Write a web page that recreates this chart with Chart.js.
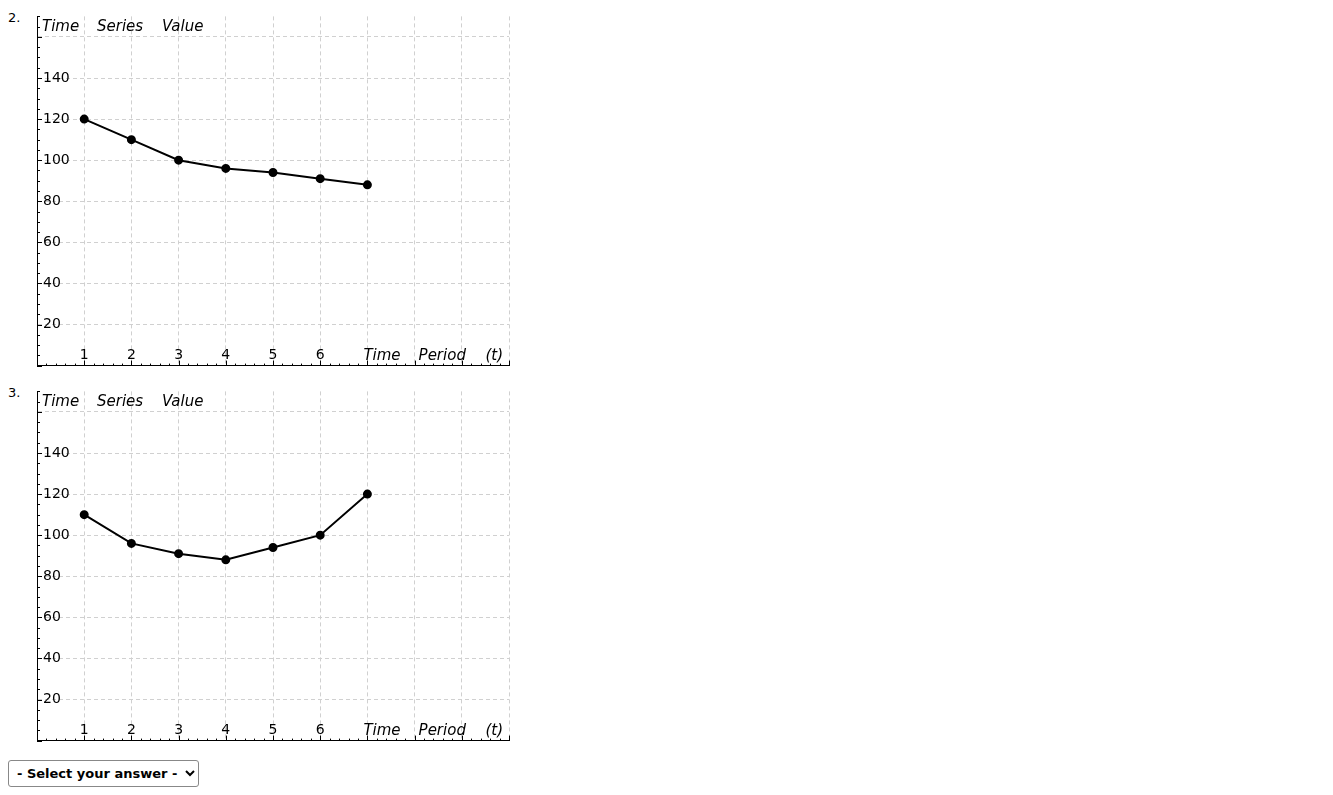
<!DOCTYPE html>
<html><head><meta charset="utf-8">
<script src="https://cdn.jsdelivr.net/npm/chart.js@4"></script>
<style>
body{margin:0;background:#fff;font-family:"DejaVu Sans",sans-serif;width:1333px;height:795px;position:relative;overflow:hidden}
.num{position:absolute;left:8px;font-size:13px;color:#000}
.box{position:absolute;left:20px;width:495px;height:378px}
select{position:absolute;left:8px;top:760px;width:191px;height:27px;font:bold 13px "DejaVu Sans",sans-serif;border:1px solid #888;border-radius:3px;background:#fff;padding-left:4px}
</style></head><body>
<div class="num" style="top:10px">2.</div>
<div class="box" style="top:2px"><canvas id="c1" width="495" height="378"></canvas></div>
<div class="num" style="top:385px">3.</div>
<div class="box" style="top:377px"><canvas id="c2" width="495" height="378"></canvas></div>
<select><option>- Select your answer -</option></select>
<script>
const periods = [1, 2, 3, 4, 5, 6, 7];
const seriesA = [120, 110, 100, 96, 94, 91, 88];
const seriesB = [110, 96, 91, 88, 94, 100, 120];
const xTickLabels = ['1', '2', '3', '4', '5', '6'];
const yTickLabels = [20, 40, 60, 80, 100, 120, 140];

// axis titles and minor ticks drawn on top of the axes
const extras = {
    id: 'extras',
    afterDraw(chart) {
        const c = chart.ctx, x = chart.scales.x, y = chart.scales.y;
        const x0 = x.getPixelForValue(0), y0 = y.getPixelForValue(0);
        c.save();
        c.strokeStyle = '#000';
        c.lineWidth = 1;
        c.beginPath();
        for (let v = 0; v <= 170; v += 5) {
            const p = Math.round(y.getPixelForValue(v)) + 0.5;
            const len = v % 20 === 0 ? 5 : 3;
            c.moveTo(x0, p); c.lineTo(x0 + len, p);
        }
        for (let v = 0; v <= 10.001; v += 0.2) {
            const p = Math.round(x.getPixelForValue(v)) + 0.5;
            const len = Math.abs(v - Math.round(v)) < 0.01 ? 5 : 2;
            c.moveTo(p, y0); c.lineTo(p, y0 - len);
        }
        c.stroke();
        c.fillStyle = '#000';
        c.font = 'italic 15px "DejaVu Sans"';
        c.textBaseline = 'alphabetic';
        const top = y.getPixelForValue(170) + 15;
        c.fillText('Time', x0 + 5, top);
        c.fillText('Series', x0 + 60, top);
        c.fillText('Value', x0 + 125, top);
        c.fillText('Time', x.getPixelForValue(7) - 4, y0 - 6);
        c.fillText('Period', x.getPixelForValue(8) + 4, y0 - 6);
        c.fillText('(t)', x.getPixelForValue(9.5), y0 - 6);
        c.restore();
    }
};

function makeChart(id, values) {
    new Chart(document.getElementById(id), {
        type: 'line',
        data: {
            datasets: [{
                data: periods.map((p, i) => ({x: p, y: values[i]})),
                borderColor: '#000',
                backgroundColor: '#000',
                borderWidth: 2,
                pointRadius: 3.5,
                pointStyle: 'circle',
                tension: 0
            }]
        },
        options: {
            responsive: false,
            animation: false,
            events: [],
            layout: {padding: 5},
            plugins: {legend: {display: false}, tooltip: {enabled: false}},
            scales: {
                x: {
                    type: 'linear', min: 0, max: 10,
                    afterBuildTicks: s => { s.ticks = [0,1,2,3,4,5,6,7,8,9,10].map(v => ({value: v})); },
                    ticks: {
                        mirror: true, padding: 2, color: '#000', maxRotation: 0,
                        font: {family: 'DejaVu Sans', size: 14},
                        callback: v => xTickLabels[v - 1] || ''
                    },
                    grid: {color: '#d0d0d0', drawTicks: false},
                    border: {color: '#000', width: 1, dash: [4, 3]}
                },
                y: {
                    type: 'linear', min: 0, max: 170,
                    afterBuildTicks: s => { s.ticks = [0,20,40,60,80,100,120,140,160].map(v => ({value: v})); },
                    ticks: {
                        mirror: true, padding: 6, color: '#000',
                        font: {family: 'DejaVu Sans', size: 14},
                        callback: v => yTickLabels.includes(v) ? String(v) : ''
                    },
                    grid: {color: '#d0d0d0', drawTicks: false},
                    border: {color: '#000', width: 1, dash: [4, 3]}
                }
            }
        },
        plugins: [extras]
    });
}

makeChart('c1', seriesA);
makeChart('c2', seriesB);
</script>
</body></html>
